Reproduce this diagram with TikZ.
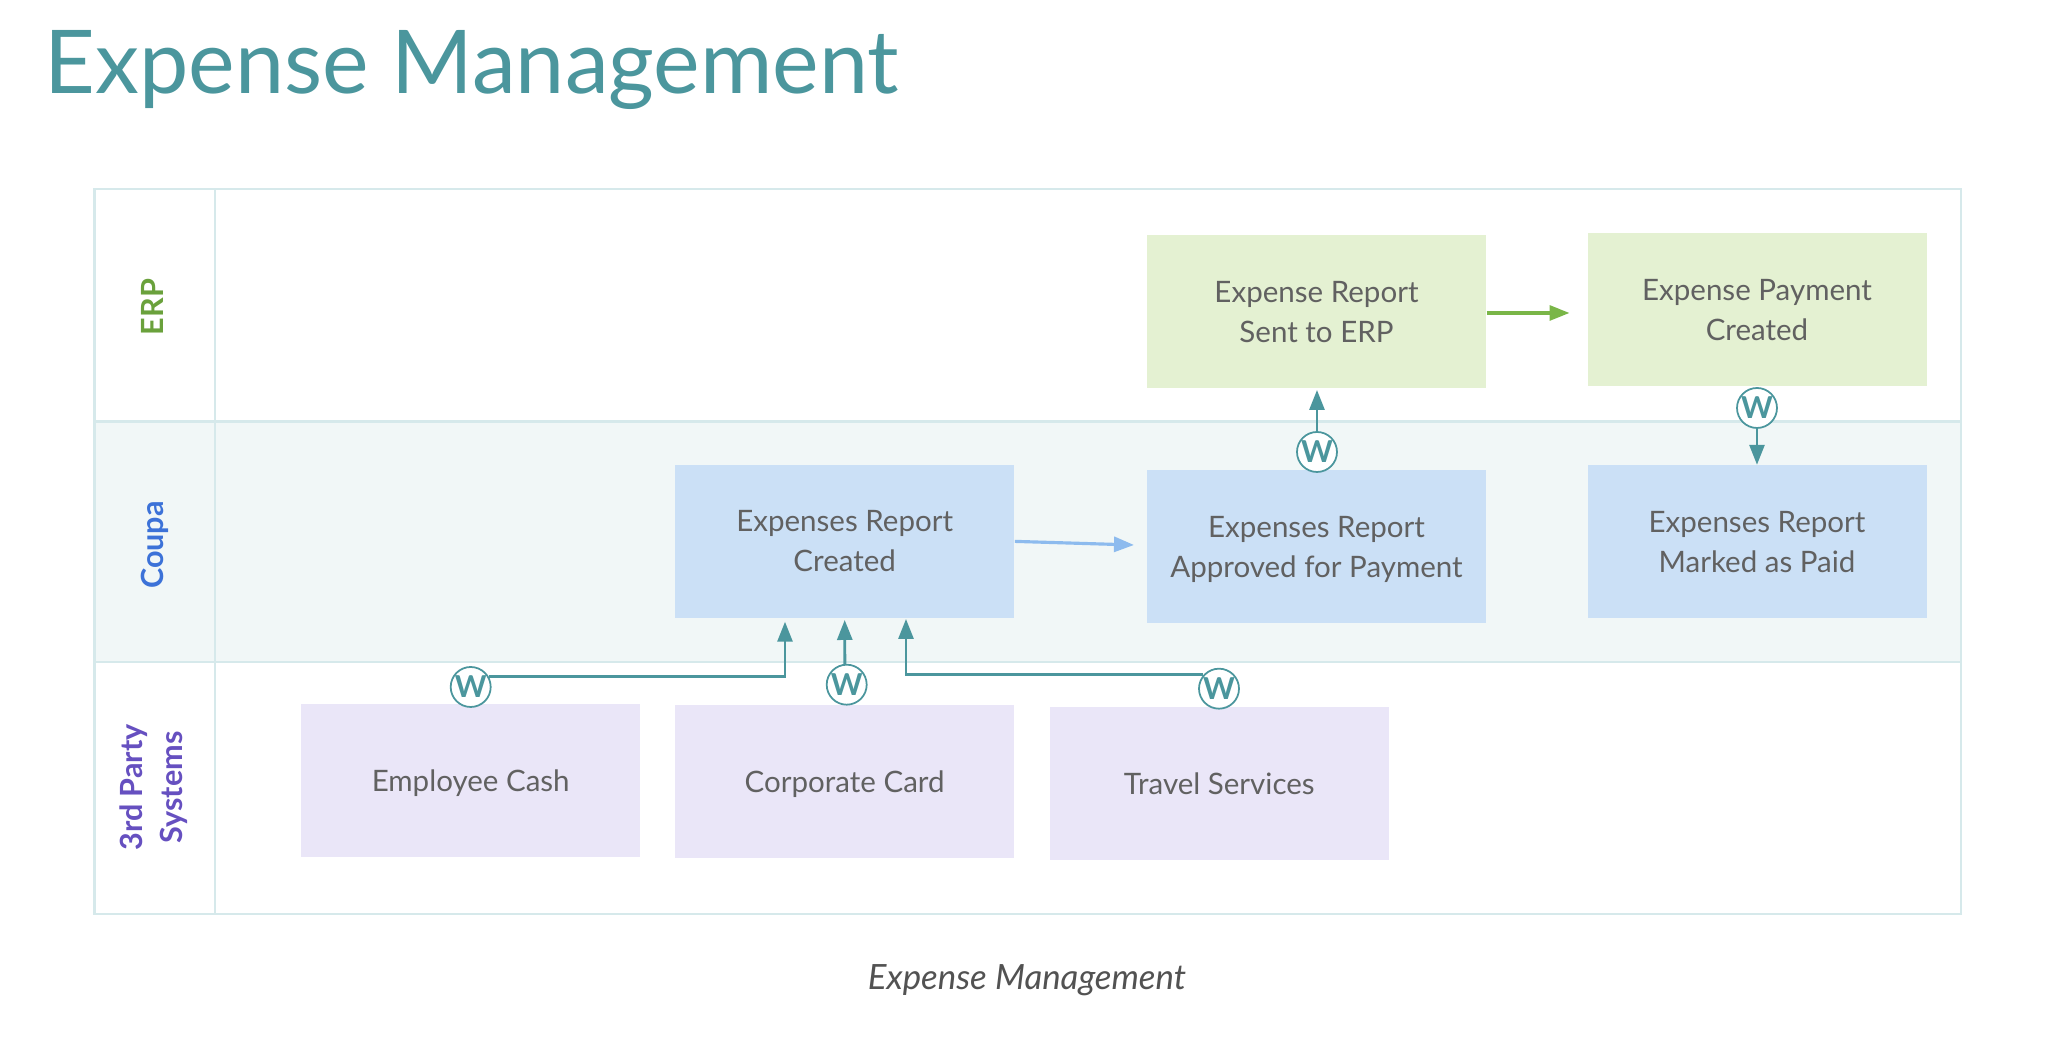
\documentclass[tikz,border=0pt]{standalone}
\usepackage{fontspec}
\setmainfont{Lato}
\usetikzlibrary{arrows.meta}
\definecolor{teal1}{HTML}{4B969D}
\definecolor{laneline}{HTML}{D6E9EB}
\definecolor{lanefill}{HTML}{F1F7F7}
\definecolor{erpfill}{HTML}{E4F1D2}
\definecolor{coupafill}{HTML}{CBE0F6}
\definecolor{thirdfill}{HTML}{EAE6F8}
\definecolor{erpgreen}{HTML}{6AA13C}
\definecolor{erparrow}{HTML}{7AB648}
\definecolor{coupablue}{HTML}{3C72D8}
\definecolor{couparrow}{HTML}{8DBBEE}
\definecolor{thirdpurple}{HTML}{6650C0}
\tikzset{
  stepbox/.style={minimum width=3.39cm, minimum height=1.53cm, inner sep=0pt, align=center, text=black!62,
    text depth=0pt, font=\fontsize{8.4}{11.38}\selectfont},
  wmark/.style={circle, draw=teal1, fill=white, line width=0.5pt, minimum size=0.4cm, inner sep=0pt, text=teal1,
    font=\fontsize{8.6}{8.6}\selectfont\bfseries},
  lanelabel/.style={rotate=90, align=center, font=\fontsize{8.7}{11.4}\selectfont\bfseries},
  flow/.style={line width=0.8pt, teal1, -{Triangle[width=1.5mm, length=2mm]}},
}
\begin{document}
\begin{tikzpicture}
\useasboundingbox (0, 0) rectangle (20.48, 10.54);

\node[anchor=base west, inner sep=0pt, text=teal1, font=\fontsize{25.05}{30}\selectfont] (title) at (0.44, 9.60) {Expense Management};

% lanes
\fill[lanefill] (0.944, 3.92) rectangle (19.61, 6.323);
\draw[laneline, line width=0.7pt] (0.944, 1.40) rectangle (19.61, 8.65);
\draw[laneline, line width=0.7pt] (0.944, 6.323) -- (19.61, 6.323);
\draw[laneline, line width=0.7pt] (0.944, 3.92) -- (19.61, 3.92);
\draw[laneline, line width=0.4pt] (2.15, 1.40) -- (2.15, 8.65);

\node[lanelabel, text=erpgreen] (erp) at (1.525, 7.47) {ERP};
\node[lanelabel, text=coupablue] (coupa) at (1.55, 5.09) {Coupa};
\node[lanelabel, text=thirdpurple] (third) at (1.54, 2.665) {3rd Party\\Systems};

\node[stepbox, fill=erpfill] (sent) at (13.165, 7.425) {Expense Report\\Sent to ERP};
\node[stepbox, fill=erpfill] (payment) at (17.57, 7.44) {Expense Payment\\Created};
\node[stepbox, fill=coupafill] (created) at (8.447, 5.126) {Expenses Report\\Created};
\node[stepbox, fill=coupafill] (approved) at (13.165, 5.075) {Expenses Report\\Approved for Payment};
\node[stepbox, fill=coupafill] (paid) at (17.57, 5.12) {Expenses Report\\Marked as Paid};
\node[stepbox, fill=thirdfill] (cash) at (4.707, 2.73) {Employee Cash};
\node[stepbox, fill=thirdfill] (card) at (8.447, 2.725) {Corporate Card};
\node[stepbox, fill=thirdfill] (travel) at (12.193, 2.70) {Travel Services};

\node[wmark] (wapproved) at (13.17, 6.02) {W};
\node[wmark] (wpayment) at (17.57, 6.46) {W};
\node[wmark] (wcash) at (4.707, 3.67) {W};
\node[wmark] (wcard) at (8.467, 3.693) {W};
\node[wmark] (wtravel) at (12.19, 3.653) {W};

\coordinate (cashin) at (7.85, 4.323);
\coordinate (cardin) at (8.447, 4.34);
\coordinate (travelin) at (9.06, 4.35);
\coordinate (sentin) at (13.17, 6.64);
\coordinate (paymentin) at (15.695, 7.41);
\coordinate (approvedin) at (11.34, 5.09);

\draw[flow] (wcash.30) -| (cashin);
\draw[flow] (wcard.95) -- (cardin);
\draw[flow] (wtravel.138) -| (travelin);
\draw[flow] (wapproved.north) -- (sentin);
\draw[flow] (wpayment.south) -- (paid.north);
\draw[line width=0.9pt, erparrow, -{Triangle[width=1.5mm, length=2mm]}] (sent.east |- paymentin) -- (paymentin);
\draw[line width=0.9pt, couparrow, -{Triangle[width=1.5mm, length=2mm]}] (created.-0.5) -- (approvedin);

\node[anchor=base, inner sep=0pt, text=black!68, font=\fontsize{9.9}{11}\selectfont\itshape] (caption) at (10.27, 0.64) {Expense Management};
\end{tikzpicture}
\end{document}
